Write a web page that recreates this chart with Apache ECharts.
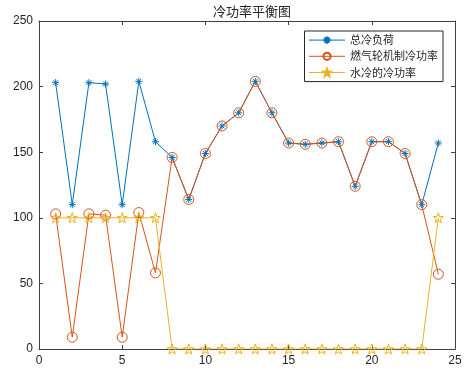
<!DOCTYPE html>
<html><head><meta charset="utf-8">
<script src="https://cdn.jsdelivr.net/npm/echarts@6/dist/echarts.min.js"></script>
<style>html,body{margin:0;padding:0;background:#fff}#c{width:474px;height:382px}</style>
</head><body><div id="c"></div>
<script>
const hours = [1,2,3,4,5,6,7,8,9,10,11,12,13,14,15,16,17,18,19,20,21,22,23,24];
const totalLoad = [203,110,203,202,110,204,158,146,114,149,170,180,204,180,157,156,157,158,124,158,158,149,110,157];
const gasTurbine = [103,9,103,102,9,104,58,146,114,149,170,180,204,180,157,156,157,158,124,158,158,149,110,57];
const waterCool = [100,100,100,100,100,100,100,0,0,0,0,0,0,0,0,0,0,0,0,0,0,0,0,100];
const names = ['总冷负荷','燃气轮机制冷功率','水冷的冷功率'];
const xTicks = {min:0,max:25,interval:5};
const yTicks = {min:0,max:250,interval:50};

const colors = ['#0072BD','#D95319','#EDB120'];
const asterisk = 'path://M0,-10L0,10M-10,0L10,0M-7,-7L7,7M-7,7L7,-7';
const star = 'path://M0,-10L2.35,-3.24L9.51,-3.09L3.8,1.24L5.88,8.09L0,4L-5.88,8.09L-3.8,1.24L-9.51,-3.09L-2.35,-3.24Z';

function pairs(ys){return hours.map((h,i)=>[h,ys[i]]);}
const axisCol = '#404040';
const font = 'Liberation Sans, Arial, sans-serif';
const cjk = 'Noto Sans CJK SC';

const chart = echarts.init(document.getElementById('c'));
function xa(show){return {type:'value',min:xTicks.min,max:xTicks.max,interval:xTicks.interval,position:show?'bottom':'top',
  axisLine:{show:true,onZero:false,lineStyle:{color:axisCol,width:1}},axisTick:{show:true,inside:true,length:4,lineStyle:{color:axisCol}},
  axisLabel:{show:show,color:'#262626',fontSize:12,fontFamily:font,margin:6},splitLine:{show:false}};}
function ya(show){return {type:'value',min:yTicks.min,max:yTicks.max,interval:yTicks.interval,position:show?'left':'right',
  axisLine:{show:true,onZero:false,lineStyle:{color:axisCol,width:1}},axisTick:{show:true,inside:true,length:4,lineStyle:{color:axisCol}},
  axisLabel:{show:show,color:'#262626',fontSize:12,fontFamily:font,margin:6},splitLine:{show:false}};}

chart.setOption({
  animation:false,
  backgroundColor:'#fff',
  title:{text:'冷功率平衡图',left:247,textAlign:'center',top:0,textStyle:{fontSize:13,fontWeight:'normal',color:'#262626',fontFamily:cjk}},
  grid:{left:39,right:19,top:21,bottom:33,containLabel:false},
  xAxis:[xa(true),xa(false)],
  yAxis:[ya(true),ya(false)],
  legend:{orient:'vertical',right:31,top:31,backgroundColor:'#fff',borderColor:'#262626',borderWidth:1,borderRadius:0,
    padding:[3,5,3,4],itemGap:4,itemWidth:36,itemHeight:9,
    lineStyle:{width:1},
    textStyle:{fontSize:11,fontFamily:cjk,color:'#262626'},data:names},
  series:[
    {name:names[0],type:'line',data:pairs(totalLoad),symbol:asterisk,symbolSize:7,
     lineStyle:{color:colors[0],width:1},itemStyle:{color:'none',borderColor:colors[0],borderWidth:1}},
    {name:names[1],type:'line',data:pairs(gasTurbine),symbol:'circle',symbolSize:10,
     lineStyle:{color:colors[1],width:1},itemStyle:{color:'none',borderColor:colors[1],borderWidth:1}},
    {name:names[2],type:'line',data:pairs(waterCool),symbol:star,symbolSize:10,
     lineStyle:{color:colors[2],width:1},itemStyle:{color:'none',borderColor:colors[2],borderWidth:1}}
  ]
});
</script></body></html>
